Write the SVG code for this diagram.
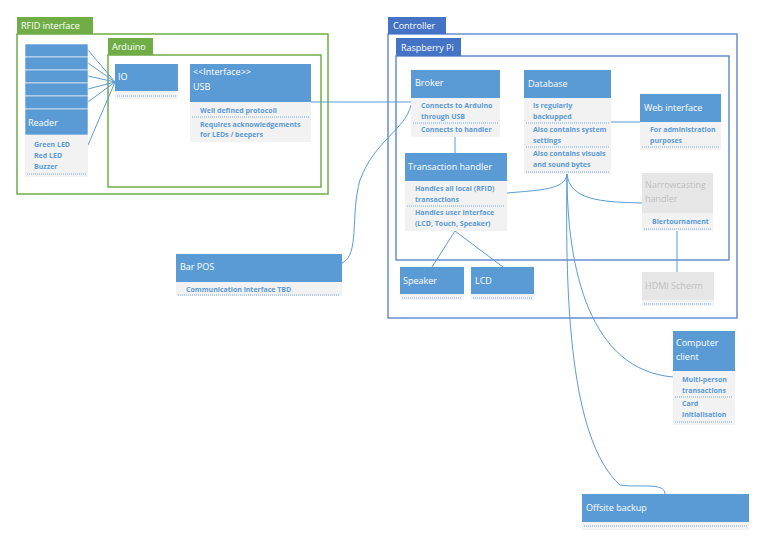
<svg xmlns="http://www.w3.org/2000/svg" width="768" height="543" viewBox="0 0 768 543">
<style>
text{font-family:"Open Sans","DejaVu Sans",sans-serif}
.t{fill:#fff;font-size:9px}
.h{fill:#5b9bd5}
.b{fill:#f2f2f2}
.bt{fill:#5b9bd5;font-size:7px;font-weight:bold}
.g{fill:#e7e6e6}
.gt{fill:#c0c0c0;font-size:9px}
.sep{stroke:#5b9bd5;stroke-width:0.8;stroke-dasharray:1 1}
.c{fill:none;stroke:#5b9bd5;stroke-width:1}
</style>
<rect width="768" height="543" fill="#fff"/>
<g id="rfid">
<rect x="17" y="34" width="311" height="160" fill="none" stroke="#70ad47" stroke-width="1.5"/>
<rect x="17" y="17" width="76" height="17" fill="#70ad47"/><text x="21" y="29" class="t" font-size="8">RFID interface</text>
</g>
<g id="arduino">
<rect x="108" y="55" width="213" height="132" fill="none" stroke="#70ad47" stroke-width="1.5"/>
<rect x="108" y="38" width="45" height="17" fill="#70ad47"/><text x="112" y="50" class="t" font-size="8">Arduino</text>
</g>
<g id="controller">
<rect x="388" y="34" width="349" height="284" fill="none" stroke="#4472c4" stroke-width="1.2"/>
<rect x="388" y="17" width="58" height="17" fill="#4472c4"/><text x="393" y="29" class="t" font-size="8">Controller</text>
</g>
<g id="rpi">
<rect x="396" y="56" width="333" height="204" fill="none" stroke="#4472c4" stroke-width="1.2"/>
<rect x="396" y="38" width="65" height="18" fill="#4472c4"/><text x="401" y="51" class="t" font-size="8">Raspberry Pi</text>
</g>
<g id="connectors">
<path class="c" d="M88 50L115 82M88 63L115 82M88 76L115 82M88 89L115 82M88 102L115 82M88 145L115 82"/>
<path class="c" d="M311 102H411"/>
<path class="c" d="M411 105C405 130 375 140 360 180C350 215 360 255 342 263"/>
<path class="c" d="M455 137V153"/>
<path class="c" d="M507 193C540 190 565 190 567 174"/>
<path class="c" d="M567 174C570 200 600 202 642 203"/>
<path class="c" d="M611 122H640"/>
<path class="c" d="M455 231L432 267M455 231L503 267"/>
<path class="c" d="M677 231V272"/>
<path class="c" d="M567 174C567 270 590 370 673 377"/>
<path class="c" d="M567 174C565 300 570 440 620 485C640 488 665 482 665 494"/>
</g>
<g id="reader">
<rect x="25" y="44" width="63" height="13" class="h" stroke="#fff" stroke-width="0.6"/>
<rect x="25" y="57" width="63" height="13" class="h" stroke="#fff" stroke-width="0.6"/>
<rect x="25" y="70" width="63" height="13" class="h" stroke="#fff" stroke-width="0.6"/>
<rect x="25" y="83" width="63" height="13" class="h" stroke="#fff" stroke-width="0.6"/>
<rect x="25" y="96" width="63" height="13" class="h" stroke="#fff" stroke-width="0.6"/>
<rect x="25" y="109" width="63" height="26" class="h" stroke="#fff" stroke-width="0.6"/>
<text x="28" y="126" class="t">Reader</text>
<rect x="25" y="135" width="63" height="42" class="b"/>
<text x="34" y="147" class="bt">Green LED</text><text x="34" y="158" class="bt">Red LED</text><text x="34" y="169" class="bt">Buzzer</text>
<line x1="27" y1="174" x2="86" y2="174" class="sep"/>
</g>
<g id="io">
<rect x="115" y="64" width="63" height="27" class="h"/><text x="118" y="80" class="t">IO</text>
<rect x="115" y="91" width="63" height="8" class="b"/><line x1="117" y1="96" x2="176" y2="96" class="sep"/>
</g>
<g id="usb">
<rect x="190" y="64" width="121" height="38" class="h"/>
<text x="193" y="75" class="t" font-size="6.5">&lt;&lt;Interface&gt;&gt;</text><text x="193" y="90" class="t">USB</text>
<rect x="190" y="102" width="121" height="40" class="b"/>
<text x="200" y="113" class="bt">Well defined protocoll</text>
<line x1="192" y1="117" x2="309" y2="117" class="sep"/>
<text x="200" y="127" class="bt">Requires acknowledgements</text><text x="200" y="137" class="bt">for LEDs / beepers</text>
</g>
<g id="barpos">
<rect x="176" y="254" width="166" height="28" class="h"/><text x="180" y="270" class="t">Bar POS</text>
<rect x="176" y="282" width="166" height="14" class="b"/><text x="186" y="292" class="bt">Communication interface TBD</text>
<line x1="178" y1="295" x2="340" y2="295" class="sep"/>
</g>
<g id="broker">
<rect x="411" y="70" width="89" height="28" class="h"/><text x="415" y="86" class="t">Broker</text>
<rect x="411" y="98" width="89" height="39" class="b"/>
<text x="421" y="108" class="bt">Connects to Arduino</text><text x="421" y="119" class="bt">through USB</text>
<line x1="413" y1="123" x2="498" y2="123" class="sep"/>
<text x="421" y="132" class="bt">Connects to handler</text>
</g>
<g id="database">
<rect x="524" y="70" width="87" height="28" class="h"/><text x="528" y="87" class="t">Database</text>
<rect x="524" y="98" width="87" height="76" class="b"/>
<text x="533" y="108" class="bt">Is regularly</text><text x="533" y="119" class="bt">backupped</text>
<line x1="526" y1="123" x2="609" y2="123" class="sep"/>
<text x="533" y="132" class="bt">Also contains system</text><text x="533" y="143" class="bt">settings</text>
<line x1="526" y1="147" x2="609" y2="147" class="sep"/>
<text x="533" y="156" class="bt">Also contains visuals</text><text x="533" y="167" class="bt">and sound bytes</text>
<line x1="526" y1="172" x2="609" y2="172" class="sep"/>
</g>
<g id="web">
<rect x="640" y="94" width="81" height="28" class="h"/><text x="644" y="111" class="t">Web interface</text>
<rect x="640" y="122" width="81" height="28" class="b"/>
<text x="650" y="132" class="bt">For administration</text><text x="650" y="143" class="bt">purposes</text>
<line x1="642" y1="147" x2="719" y2="147" class="sep"/>
</g>
<g id="transaction">
<rect x="405" y="153" width="102" height="28" class="h"/><text x="408" y="170" class="t">Transaction handler</text>
<rect x="405" y="181" width="102" height="50" class="b"/>
<text x="415" y="191" class="bt">Handles all local (RFID)</text><text x="415" y="202" class="bt">transactions</text>
<line x1="407" y1="206" x2="505" y2="206" class="sep"/>
<text x="415" y="215" class="bt">Handles user interface</text><text x="415" y="226" class="bt">(LCD, Touch, Speaker)</text>
</g>
<g id="narrow">
<rect x="642" y="173" width="71" height="40" class="g"/><text x="645" y="188" class="gt">Narrowcasting</text><text x="645" y="202" class="gt">handler</text>
<rect x="642" y="213" width="71" height="18" class="b"/><text x="652" y="224" class="bt">Biertournament</text>
<line x1="644" y1="229" x2="711" y2="229" class="sep"/>
</g>
<g id="speaker">
<rect x="400" y="267" width="64" height="27" class="h"/><text x="403" y="284" class="t">Speaker</text>
<rect x="400" y="294" width="64" height="6" class="b"/><line x1="402" y1="298" x2="462" y2="298" class="sep"/>
</g>
<g id="lcd">
<rect x="471" y="267" width="63" height="27" class="h"/><text x="475" y="284" class="t">LCD</text>
<rect x="471" y="294" width="63" height="6" class="b"/><line x1="473" y1="298" x2="532" y2="298" class="sep"/>
</g>
<g id="hdmi">
<rect x="642" y="272" width="72" height="28" class="g"/><text x="645" y="289" class="gt">HDMI Scherm</text>
<rect x="642" y="300" width="72" height="6" class="b"/><line x1="644" y1="304" x2="712" y2="304" class="sep"/>
</g>
<g id="computer">
<rect x="673" y="331" width="62" height="40" class="h"/><text x="676" y="346" class="t">Computer</text><text x="676" y="360" class="t">client</text>
<rect x="673" y="371" width="62" height="54" class="b"/>
<text x="682" y="382" class="bt">Multi-person</text><text x="682" y="393" class="bt">transactions</text>
<line x1="675" y1="397" x2="733" y2="397" class="sep"/>
<text x="682" y="406" class="bt">Card</text><text x="682" y="417" class="bt">initialisation</text>
<line x1="675" y1="422" x2="733" y2="422" class="sep"/>
</g>
<g id="offsite">
<rect x="582" y="494" width="167" height="28" class="h"/><text x="586" y="511" class="t">Offsite backup</text>
<rect x="582" y="522" width="167" height="8" class="b"/><line x1="584" y1="526" x2="747" y2="526" class="sep"/>
</g>
</svg>
